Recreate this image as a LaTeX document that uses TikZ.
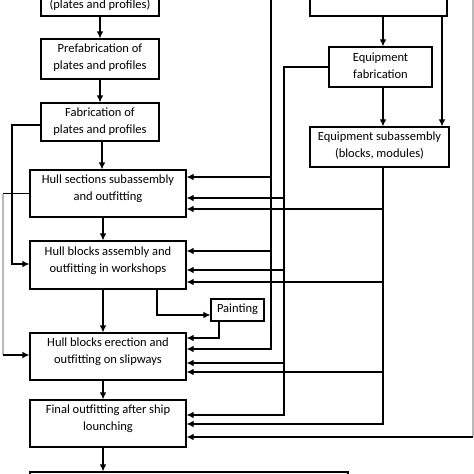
\documentclass[tikz,border=0pt]{standalone}
\usepackage{fontspec}
\setmainfont{Carlito}
\usetikzlibrary{arrows.meta}
\begin{document}
\begin{tikzpicture}[x=1pt,y=-1pt,
  box/.style={draw, line width=1.1pt, inner sep=0pt},
  txt/.style={align=center, inner sep=0pt, font=\fontsize{12.5}{17}\selectfont},
  arr/.style={line width=1.1pt, -{Latex[length=7pt,width=6.5pt]}},
  ln/.style={line width=1.1pt},
  grayln/.style={line width=1.2pt, draw=gray!55}]
\useasboundingbox (0,0) rectangle (474,474);
% left column boxes
\node[box, minimum width=118pt, minimum height=40pt] (b1) at (100,-4) {};
\node[txt] (t1) at (100,5) {(plates and profiles)};
\node[box, minimum width=118pt, minimum height=40pt] (b2) at (100,59) {};
\node[txt] (t2) at (100,58) {Prefabrication of\\plates and profiles};
\node[box, minimum width=118pt, minimum height=38pt] (b3) at (100,122) {};
\node[txt] (t3) at (100,122) {Fabrication of\\plates and profiles};
\node[box, minimum width=156pt, minimum height=47pt] (b4) at (108,193.5) {};
\node[txt] (t4) at (108,188.5) {Hull sections subassembly\\and outfitting};
\node[box, minimum width=156pt, minimum height=48pt] (b5) at (108,265) {};
\node[txt] (t5) at (108,261) {Hull blocks assembly and\\outfitting in workshops};
\node[box, minimum width=53pt, minimum height=22pt] (paint) at (237.5,310) {};
\node[txt] (tp) at (237.5,309) {Painting};
\node[box, minimum width=156pt, minimum height=47pt] (b7) at (108,356.5) {};
\node[txt] (t7) at (108,351.5) {Hull blocks erection and\\outfitting on slipways};
\node[box, minimum width=156pt, minimum height=47pt] (b8) at (108,423.5) {};
\node[txt] (t8) at (108,418.5) {Final outfitting after ship\\lounching};
\node[box, minimum width=318pt, minimum height=40pt] (b9) at (189,492) {};
% right column boxes
\node[box, minimum width=137pt, minimum height=40pt] (tr) at (378.5,-4) {};
\node[box, minimum width=103pt, minimum height=40pt] (ef) at (380.5,67) {};
\node[txt] (tef) at (380.5,65.5) {Equipment\\fabrication};
\node[box, minimum width=139pt, minimum height=40pt] (es) at (379.5,147) {};
\node[txt] (tes) at (379.5,145.5) {Equipment subassembly\\(blocks, modules)};
% main chain
\draw[arr] (b1) -- (b2);
\draw[arr] (b2) -- (b3);
\coordinate (c102) at (102,0);
\coordinate (c103) at (103,0);
\draw[arr] (b3.south -| c102) -- (b4.north -| c102);
\draw[arr] (b4.south -| c103) -- (b5.north -| c103);
\draw[arr] (b5.south -| c103) -- (b7.north -| c103);
\draw[arr] (b7.south -| c103) -- (b8.north -| c103);
\draw[arr] (b8.south -| c103) -- (b9.north -| c103);
% painting
\coordinate (p1) at (157,315);
\draw[arr] (b5.south -| p1) -- (p1) -- (p1 -| paint.west);
\coordinate (p2) at (219,338);
\draw[arr] (paint.south -| p2) -- (p2) -- (p2 -| b7.east);
% right chain
\coordinate (x383) at (383,0);
\coordinate (x442) at (442,0);
\draw[arr] (tr.south -| x383) -- (ef.north -| x383);
\draw[arr] (ef.south -| x383) -- (es.north -| x383);
\draw[arr] (tr.south -| x442) -- (es.north -| x442);
% vertical at 271
\coordinate (t271) at (271,0);
\coordinate (e271) at (271,349);
\draw[arr] (t271) -- (e271) -- (e271 -| b7.east);
\coordinate (a1) at (271,177);
\coordinate (a2) at (271,251);
\draw[arr] (a1) -- (a1 -| b4.east);
\draw[arr] (a2) -- (a2 -| b5.east);
% vertical at 284 from equipment fabrication
\coordinate (e284) at (284,415);
\draw[arr] (ef.west) -- (ef.west -| e284) -- (e284) -- (e284 -| b8.east);
\coordinate (a3) at (284,198);
\coordinate (a4) at (284,270);
\coordinate (a5) at (284,363);
\draw[arr] (a3) -- (a3 -| b4.east);
\draw[arr] (a4) -- (a4 -| b5.east);
\draw[arr] (a5) -- (a5 -| b7.east);
% vertical at 383 from equipment subassembly
\coordinate (e383) at (383,424);
\draw[arr] (es.south -| e383) -- (e383) -- (e383 -| b8.east);
\coordinate (a6) at (383,209);
\coordinate (a7) at (383,282);
\coordinate (a8) at (383,372);
\draw[arr] (a6) -- (a6 -| b4.east);
\draw[arr] (a7) -- (a7 -| b5.east);
\draw[arr] (a8) -- (a8 -| b7.east);
% vertical at 473 (gray)
\coordinate (t473) at (473,0);
\coordinate (e473) at (473,437);
\draw[grayln] (t473) -- (e473);
\draw[arr] (e473) -- (e473 -| b8.east);
% left side
\coordinate (l12) at (12,264);
\draw[arr] ([yshift=-3pt]b3.west) -| (l12) -- (l12 -| b5.west);
\coordinate (l3) at (3,355);
\draw[ln] (b4.west) -- (b4.west -| l3);
\draw[grayln] (b4.west -| l3) -- (l3);
\draw[arr] (l3) -- (l3 -| b7.west);
\end{tikzpicture}
\end{document}
